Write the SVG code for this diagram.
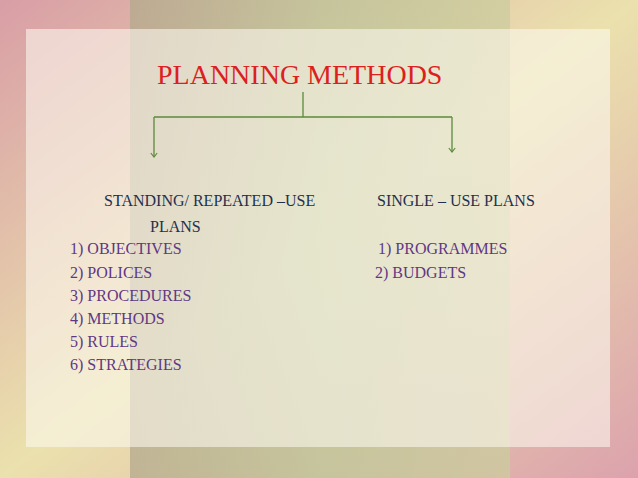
<svg xmlns="http://www.w3.org/2000/svg" width="638" height="478" viewBox="0 0 638 478">
<defs>
<linearGradient id="bg" x1="0" y1="0" x2="1" y2="1">
<stop offset="0" stop-color="#d99ea6"/>
<stop offset="0.5" stop-color="#ebe1ad"/>
<stop offset="1" stop-color="#dca2ac"/>
</linearGradient>
<linearGradient id="band" x1="0" y1="0" x2="1" y2="0">
<stop offset="0" stop-color="#b3a98c"/>
<stop offset="0.5" stop-color="#bcc597"/>
<stop offset="1" stop-color="#cccc9e"/>
</linearGradient>
<marker id="ah" viewBox="0 0 10 10" refX="9" refY="5" markerWidth="8" markerHeight="8" orient="auto" markerUnits="userSpaceOnUse">
<path d="M4,1 L9,5 L4,9" fill="none" stroke="#5b8a3a" stroke-width="1.4"/>
</marker>
</defs>
<style>
.conn{fill:none;stroke:#5b8a3a;stroke-width:1.3}
.title{font-family:"Liberation Serif","Times New Roman",serif;font-size:28px;fill:#dc1f1f}
.head{font-family:"Liberation Serif","Times New Roman",serif;font-size:16px;fill:#22304f}
.item{font-family:"Liberation Serif","Times New Roman",serif;font-size:16px;fill:#5f3884}
</style>
<rect x="0" y="0" width="638" height="478" fill="url(#bg)"/>
<rect x="130" y="0" width="380" height="478" fill="url(#band)" opacity="0.75"/>
<rect x="26" y="29" width="584" height="418" fill="#fbf8ef" opacity="0.58"/>

<g id="title"><text class="title" x="157" y="84">PLANNING METHODS</text></g>

<g id="connectors">
<path class="conn" d="M303,92 V117"/>
<path class="conn" d="M154,117 H452"/>
<path class="conn" d="M154,117 V157" marker-end="url(#ah)"/>
<path class="conn" d="M452,117 V152" marker-end="url(#ah)"/>
</g>

<g id="standing">
<text class="head" x="104" y="206">STANDING/ REPEATED –USE</text>
<text class="head" x="150" y="232">PLANS</text>
<text class="item" x="70" y="254">1) OBJECTIVES</text>
<text class="item" x="70" y="277.5">2) POLICES</text>
<text class="item" x="70" y="300.5">3) PROCEDURES</text>
<text class="item" x="70" y="323.5">4) METHODS</text>
<text class="item" x="70" y="346.5">5) RULES</text>
<text class="item" x="70" y="370">6) STRATEGIES</text>
</g>

<g id="single">
<text class="head" x="377" y="206">SINGLE – USE PLANS</text>
<text class="item" x="378" y="254">1) PROGRAMMES</text>
<text class="item" x="375" y="277.5">2) BUDGETS</text>
</g>
</svg>
